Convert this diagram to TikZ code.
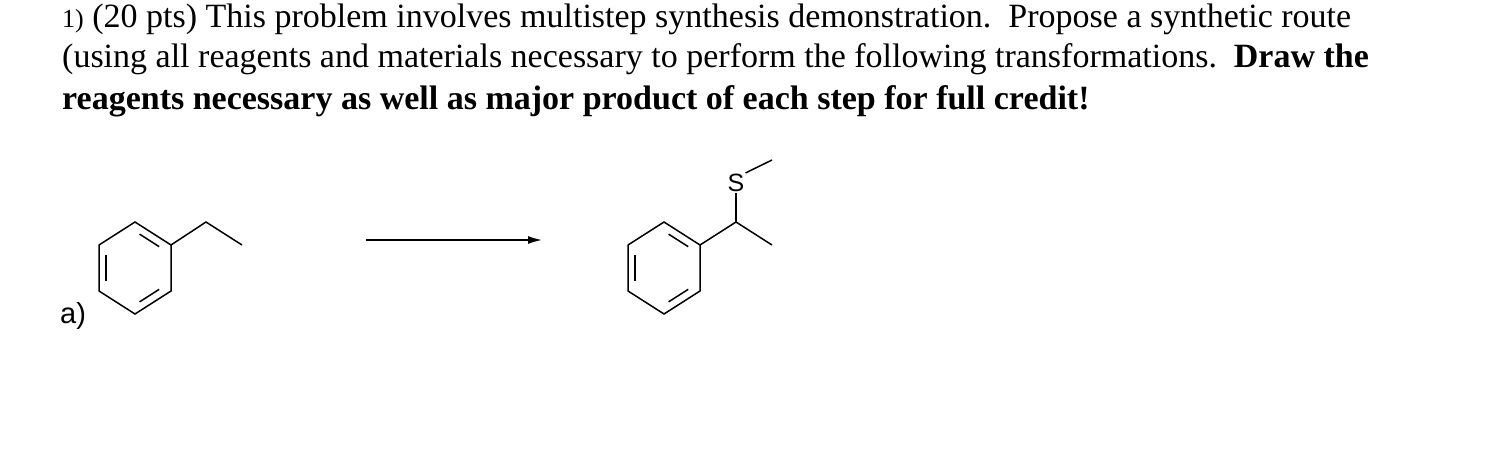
\documentclass[tikz,border=0pt]{standalone}
\usepackage{fontspec}
\setmainfont{Liberation Serif}
\newfontfamily\arialf{Liberation Sans}
\usetikzlibrary{calc,arrows.meta}
\begin{document}
\begin{tikzpicture}[x=1pt,y=-1pt,bond/.style={line width=1.5pt,line join=miter},
  txt/.style={anchor=base west,inner sep=0pt,font=\fontsize{34}{38}\selectfont}]
\useasboundingbox (0,0) rectangle (1488,476);
\node[txt] (l1) at (62,28) {{\fontsize{26}{28}\selectfont 1)} (20 pts) This problem involves multistep synthesis demonstration.\ \ Propose a synthetic route};
\node[txt] (l2) at (62,68) {(using all reagents and materials necessary to perform the following transformations.\ \ \textbf{Draw the}};
\node[txt] (l3) at (62,110) {\textbf{reagents necessary as well as major product of each step for full credit!}};
\node[anchor=base west,inner sep=0pt,font=\arialf\fontsize{29}{31}\selectfont] (a) at (60,323) {a)};
% rings
\foreach \r/\cx in {A/135,B/664}{
  \coordinate (\r c) at (\cx,268);
  \coordinate (\r1) at (\cx,222);
  \coordinate (\r2) at (\cx+36,245);
  \coordinate (\r3) at (\cx+36,291);
  \coordinate (\r4) at (\cx,314);
  \coordinate (\r5) at (\cx-36,291);
  \coordinate (\r6) at (\cx-36,245);
  \draw[bond] (\r1)--(\r2)--(\r3)--(\r4)--(\r5)--(\r6)--cycle;
  \foreach \a/\b in {1/2,3/4,5/6}
    \draw[bond] ($($(\r\a)!0.16!(\r\b)$)!0.2!(\r c)$) -- ($($(\r\a)!0.84!(\r\b)$)!0.2!(\r c)$);
}
% ethyl
\coordinate (e1) at (206,222);
\coordinate (e2) at (242,245);
\draw[bond] (A2)--(e1)--(e2);
% product substituent
\coordinate (ch) at (736,222);
\coordinate (me) at (772,245);
\node[inner sep=1pt,font=\arialf\fontsize{25}{27}\selectfont] (S) at (736,183) {S};
\coordinate (sme) at (772,160);
\draw[bond] (B2)--(ch)--(me);
\draw[bond] (ch)--(S.south);
\draw[bond] (S.north east)--(sme);
% arrow
\coordinate (r0) at (366,240);
\coordinate (r1) at (542,240);
\draw[line width=1.5pt,-{Latex[length=14pt,width=8pt]}] (r0)--(r1);
\end{tikzpicture}
\end{document}
